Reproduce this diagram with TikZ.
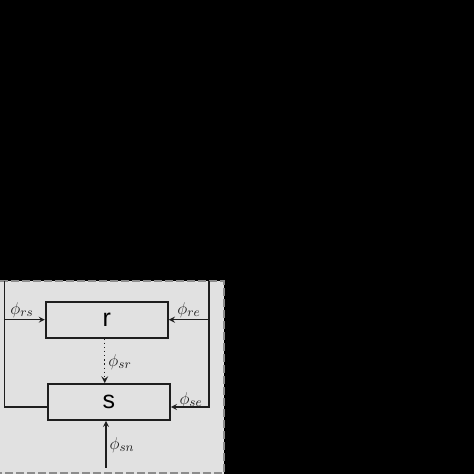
\documentclass[tikz,border=0pt]{standalone}
\usepackage{fontspec}
\newfontfamily\blockfont{Liberation Sans}
\definecolor{panel}{HTML}{E1E1E1}
\definecolor{rim}{HTML}{8C8C8C}
\definecolor{ink}{HTML}{1E1E1E}

\begin{document}
\begin{tikzpicture}[x=0.7pt,y=0.7pt,>=stealth]
  \tikzstyle{block}=[rectangle,draw=ink,line width=1.2pt,fill=panel,minimum width=85.6pt,minimum height=25.2pt,inner sep=0pt,font=\blockfont\fontsize{17.5}{20}\selectfont]
  \tikzstyle{flow}=[draw=ink,line width=0.9pt]
  \tikzstyle{lab}=[inner sep=0pt,font=\fontsize{13}{15}\selectfont,text=ink]
  \useasboundingbox (0,0) rectangle (474,474);
  \fill[black] (0,0) rectangle (474,474);
  \fill[panel] (0,0) rectangle (224,193);
  \draw[rim,line width=0.8pt,dash pattern=on 5.6pt off 2.1pt] (0,193) -- (224,193) -- (224,1) -- (0,1);
  \node[block] (r) at (106.85,154.3) {r};
  \node[block] (s) at (108.85,72) {s};
  \coordinate (lt) at (4.7,193);
  \coordinate (rt) at (209,193);
  \coordinate (sn) at (106,6);
  \draw[flow] (lt) |- ([yshift=-3.5pt]s.west);
  \draw[flow,->] (lt |- r.west) -- (r.west);
  \draw[flow,->] (rt) |- ([yshift=-3.5pt]s.east);
  \draw[flow,->] (rt |- r.east) -- (r.east);
  \draw[flow,dotted,line width=1.1pt,->] ([xshift=-1.5pt]r.south) -- ([xshift=-1.5pt]r.south |- s.north);
  \draw[flow,->] (sn) -- (sn |- s.south);
  \node[lab] (rs) at (22,164) {$\phi_{rs}$};
  \node[lab] (re) at (189,164) {$\phi_{re}$};
  \node[lab] (sr) at (120,112) {$\phi_{sr}$};
  \node[lab] (se) at (191,74) {$\phi_{se}$};
  \node[lab] (nsn) at (122,29) {$\phi_{sn}$};
\end{tikzpicture}
\end{document}
